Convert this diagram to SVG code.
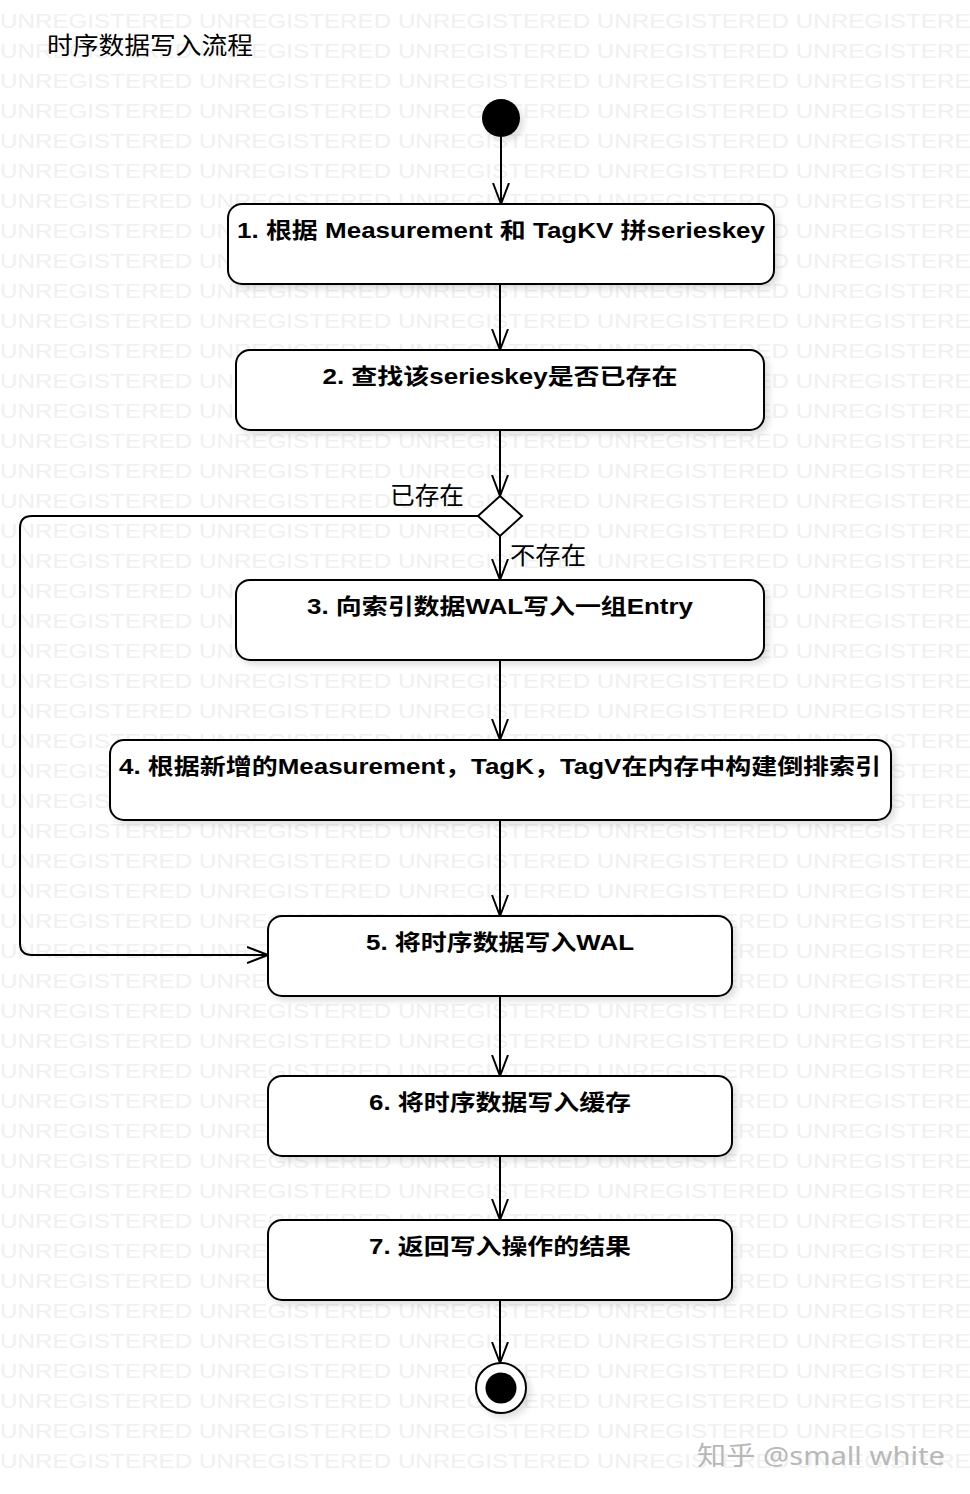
<svg xmlns="http://www.w3.org/2000/svg" width="970" height="1494" viewBox="0 0 970 1494">
<style>
.wm{font-family:"Liberation Sans",Arial,sans-serif;font-size:21px;fill:#f0f0f0;}
.box{fill:#ffffff;stroke:#000000;stroke-width:2;}
.lbl{font-family:"Liberation Sans","Noto Sans CJK SC",sans-serif;font-size:22px;font-weight:bold;fill:#000000;text-anchor:middle;}
.txt{font-family:"Liberation Sans","Noto Sans CJK SC",sans-serif;font-size:24px;fill:#000000;}
.conn{fill:none;stroke:#000000;stroke-width:2;}
</style>
<defs>
<marker id="arr" markerWidth="24" markerHeight="20" refX="21" refY="9" orient="auto" markerUnits="userSpaceOnUse">
<path d="M0,1 L21,9 L0,17" fill="none" stroke="#000" stroke-width="2"/>
</marker>
<filter id="sh" x="-10%" y="-10%" width="130%" height="140%">
<feDropShadow dx="4" dy="4" stdDeviation="3" flood-color="#000" flood-opacity="0.12"/>
</filter>
</defs>
<rect width="970" height="1494" fill="#ffffff"/>
<g id="watermark">
<text class="wm" x="0" y="28" textLength="988" lengthAdjust="spacingAndGlyphs">UNREGISTERED UNREGISTERED UNREGISTERED UNREGISTERED UNREGISTERED</text>
<text class="wm" x="0" y="58" textLength="988" lengthAdjust="spacingAndGlyphs">UNREGISTERED UNREGISTERED UNREGISTERED UNREGISTERED UNREGISTERED</text>
<text class="wm" x="0" y="88" textLength="988" lengthAdjust="spacingAndGlyphs">UNREGISTERED UNREGISTERED UNREGISTERED UNREGISTERED UNREGISTERED</text>
<text class="wm" x="0" y="118" textLength="988" lengthAdjust="spacingAndGlyphs">UNREGISTERED UNREGISTERED UNREGISTERED UNREGISTERED UNREGISTERED</text>
<text class="wm" x="0" y="148" textLength="988" lengthAdjust="spacingAndGlyphs">UNREGISTERED UNREGISTERED UNREGISTERED UNREGISTERED UNREGISTERED</text>
<text class="wm" x="0" y="178" textLength="988" lengthAdjust="spacingAndGlyphs">UNREGISTERED UNREGISTERED UNREGISTERED UNREGISTERED UNREGISTERED</text>
<text class="wm" x="0" y="208" textLength="988" lengthAdjust="spacingAndGlyphs">UNREGISTERED UNREGISTERED UNREGISTERED UNREGISTERED UNREGISTERED</text>
<text class="wm" x="0" y="238" textLength="988" lengthAdjust="spacingAndGlyphs">UNREGISTERED UNREGISTERED UNREGISTERED UNREGISTERED UNREGISTERED</text>
<text class="wm" x="0" y="268" textLength="988" lengthAdjust="spacingAndGlyphs">UNREGISTERED UNREGISTERED UNREGISTERED UNREGISTERED UNREGISTERED</text>
<text class="wm" x="0" y="298" textLength="988" lengthAdjust="spacingAndGlyphs">UNREGISTERED UNREGISTERED UNREGISTERED UNREGISTERED UNREGISTERED</text>
<text class="wm" x="0" y="328" textLength="988" lengthAdjust="spacingAndGlyphs">UNREGISTERED UNREGISTERED UNREGISTERED UNREGISTERED UNREGISTERED</text>
<text class="wm" x="0" y="358" textLength="988" lengthAdjust="spacingAndGlyphs">UNREGISTERED UNREGISTERED UNREGISTERED UNREGISTERED UNREGISTERED</text>
<text class="wm" x="0" y="388" textLength="988" lengthAdjust="spacingAndGlyphs">UNREGISTERED UNREGISTERED UNREGISTERED UNREGISTERED UNREGISTERED</text>
<text class="wm" x="0" y="418" textLength="988" lengthAdjust="spacingAndGlyphs">UNREGISTERED UNREGISTERED UNREGISTERED UNREGISTERED UNREGISTERED</text>
<text class="wm" x="0" y="448" textLength="988" lengthAdjust="spacingAndGlyphs">UNREGISTERED UNREGISTERED UNREGISTERED UNREGISTERED UNREGISTERED</text>
<text class="wm" x="0" y="478" textLength="988" lengthAdjust="spacingAndGlyphs">UNREGISTERED UNREGISTERED UNREGISTERED UNREGISTERED UNREGISTERED</text>
<text class="wm" x="0" y="508" textLength="988" lengthAdjust="spacingAndGlyphs">UNREGISTERED UNREGISTERED UNREGISTERED UNREGISTERED UNREGISTERED</text>
<text class="wm" x="0" y="538" textLength="988" lengthAdjust="spacingAndGlyphs">UNREGISTERED UNREGISTERED UNREGISTERED UNREGISTERED UNREGISTERED</text>
<text class="wm" x="0" y="568" textLength="988" lengthAdjust="spacingAndGlyphs">UNREGISTERED UNREGISTERED UNREGISTERED UNREGISTERED UNREGISTERED</text>
<text class="wm" x="0" y="598" textLength="988" lengthAdjust="spacingAndGlyphs">UNREGISTERED UNREGISTERED UNREGISTERED UNREGISTERED UNREGISTERED</text>
<text class="wm" x="0" y="628" textLength="988" lengthAdjust="spacingAndGlyphs">UNREGISTERED UNREGISTERED UNREGISTERED UNREGISTERED UNREGISTERED</text>
<text class="wm" x="0" y="658" textLength="988" lengthAdjust="spacingAndGlyphs">UNREGISTERED UNREGISTERED UNREGISTERED UNREGISTERED UNREGISTERED</text>
<text class="wm" x="0" y="688" textLength="988" lengthAdjust="spacingAndGlyphs">UNREGISTERED UNREGISTERED UNREGISTERED UNREGISTERED UNREGISTERED</text>
<text class="wm" x="0" y="718" textLength="988" lengthAdjust="spacingAndGlyphs">UNREGISTERED UNREGISTERED UNREGISTERED UNREGISTERED UNREGISTERED</text>
<text class="wm" x="0" y="748" textLength="988" lengthAdjust="spacingAndGlyphs">UNREGISTERED UNREGISTERED UNREGISTERED UNREGISTERED UNREGISTERED</text>
<text class="wm" x="0" y="778" textLength="988" lengthAdjust="spacingAndGlyphs">UNREGISTERED UNREGISTERED UNREGISTERED UNREGISTERED UNREGISTERED</text>
<text class="wm" x="0" y="808" textLength="988" lengthAdjust="spacingAndGlyphs">UNREGISTERED UNREGISTERED UNREGISTERED UNREGISTERED UNREGISTERED</text>
<text class="wm" x="0" y="838" textLength="988" lengthAdjust="spacingAndGlyphs">UNREGISTERED UNREGISTERED UNREGISTERED UNREGISTERED UNREGISTERED</text>
<text class="wm" x="0" y="868" textLength="988" lengthAdjust="spacingAndGlyphs">UNREGISTERED UNREGISTERED UNREGISTERED UNREGISTERED UNREGISTERED</text>
<text class="wm" x="0" y="898" textLength="988" lengthAdjust="spacingAndGlyphs">UNREGISTERED UNREGISTERED UNREGISTERED UNREGISTERED UNREGISTERED</text>
<text class="wm" x="0" y="928" textLength="988" lengthAdjust="spacingAndGlyphs">UNREGISTERED UNREGISTERED UNREGISTERED UNREGISTERED UNREGISTERED</text>
<text class="wm" x="0" y="958" textLength="988" lengthAdjust="spacingAndGlyphs">UNREGISTERED UNREGISTERED UNREGISTERED UNREGISTERED UNREGISTERED</text>
<text class="wm" x="0" y="988" textLength="988" lengthAdjust="spacingAndGlyphs">UNREGISTERED UNREGISTERED UNREGISTERED UNREGISTERED UNREGISTERED</text>
<text class="wm" x="0" y="1018" textLength="988" lengthAdjust="spacingAndGlyphs">UNREGISTERED UNREGISTERED UNREGISTERED UNREGISTERED UNREGISTERED</text>
<text class="wm" x="0" y="1048" textLength="988" lengthAdjust="spacingAndGlyphs">UNREGISTERED UNREGISTERED UNREGISTERED UNREGISTERED UNREGISTERED</text>
<text class="wm" x="0" y="1078" textLength="988" lengthAdjust="spacingAndGlyphs">UNREGISTERED UNREGISTERED UNREGISTERED UNREGISTERED UNREGISTERED</text>
<text class="wm" x="0" y="1108" textLength="988" lengthAdjust="spacingAndGlyphs">UNREGISTERED UNREGISTERED UNREGISTERED UNREGISTERED UNREGISTERED</text>
<text class="wm" x="0" y="1138" textLength="988" lengthAdjust="spacingAndGlyphs">UNREGISTERED UNREGISTERED UNREGISTERED UNREGISTERED UNREGISTERED</text>
<text class="wm" x="0" y="1168" textLength="988" lengthAdjust="spacingAndGlyphs">UNREGISTERED UNREGISTERED UNREGISTERED UNREGISTERED UNREGISTERED</text>
<text class="wm" x="0" y="1198" textLength="988" lengthAdjust="spacingAndGlyphs">UNREGISTERED UNREGISTERED UNREGISTERED UNREGISTERED UNREGISTERED</text>
<text class="wm" x="0" y="1228" textLength="988" lengthAdjust="spacingAndGlyphs">UNREGISTERED UNREGISTERED UNREGISTERED UNREGISTERED UNREGISTERED</text>
<text class="wm" x="0" y="1258" textLength="988" lengthAdjust="spacingAndGlyphs">UNREGISTERED UNREGISTERED UNREGISTERED UNREGISTERED UNREGISTERED</text>
<text class="wm" x="0" y="1288" textLength="988" lengthAdjust="spacingAndGlyphs">UNREGISTERED UNREGISTERED UNREGISTERED UNREGISTERED UNREGISTERED</text>
<text class="wm" x="0" y="1318" textLength="988" lengthAdjust="spacingAndGlyphs">UNREGISTERED UNREGISTERED UNREGISTERED UNREGISTERED UNREGISTERED</text>
<text class="wm" x="0" y="1348" textLength="988" lengthAdjust="spacingAndGlyphs">UNREGISTERED UNREGISTERED UNREGISTERED UNREGISTERED UNREGISTERED</text>
<text class="wm" x="0" y="1378" textLength="988" lengthAdjust="spacingAndGlyphs">UNREGISTERED UNREGISTERED UNREGISTERED UNREGISTERED UNREGISTERED</text>
<text class="wm" x="0" y="1408" textLength="988" lengthAdjust="spacingAndGlyphs">UNREGISTERED UNREGISTERED UNREGISTERED UNREGISTERED UNREGISTERED</text>
<text class="wm" x="0" y="1438" textLength="988" lengthAdjust="spacingAndGlyphs">UNREGISTERED UNREGISTERED UNREGISTERED UNREGISTERED UNREGISTERED</text>
<text class="wm" x="0" y="1468" textLength="988" lengthAdjust="spacingAndGlyphs">UNREGISTERED UNREGISTERED UNREGISTERED UNREGISTERED UNREGISTERED</text>
</g>
<g id="title">
<text class="txt" x="47" y="54" font-size="25" textLength="206" lengthAdjust="spacingAndGlyphs">时序数据写入流程</text>
</g>
<g id="connectors">
<line class="conn" x1="501" y1="137" x2="501" y2="204" marker-end="url(#arr)"/>
<line class="conn" x1="500" y1="284" x2="500" y2="350" marker-end="url(#arr)"/>
<line class="conn" x1="500" y1="430" x2="500" y2="496" marker-end="url(#arr)"/>
<line class="conn" x1="500" y1="536" x2="500" y2="580" marker-end="url(#arr)"/>
<path class="conn" d="M478,516 L32,516 Q20,516 20,528 L20,943 Q20,955 32,955 L268,955" marker-end="url(#arr)"/>
<line class="conn" x1="500" y1="660" x2="500" y2="740" marker-end="url(#arr)"/>
<line class="conn" x1="500" y1="820" x2="500" y2="916" marker-end="url(#arr)"/>
<line class="conn" x1="500" y1="996" x2="500" y2="1076" marker-end="url(#arr)"/>
<line class="conn" x1="500" y1="1156" x2="500" y2="1220" marker-end="url(#arr)"/>
<line class="conn" x1="500" y1="1300" x2="500" y2="1363" marker-end="url(#arr)"/>
<text class="txt" x="390" y="504" textLength="74" lengthAdjust="spacingAndGlyphs">已存在</text>
<text class="txt" x="510" y="564" textLength="76" lengthAdjust="spacingAndGlyphs">不存在</text>
</g>
<g id="start">
<circle cx="501" cy="118" r="19" fill="#000" filter="url(#sh)"/>
</g>
<g id="step1">
<rect class="box" x="228" y="204" width="546" height="80" rx="14" filter="url(#sh)"/>
<text class="lbl" x="501" y="238" textLength="528" lengthAdjust="spacingAndGlyphs">1. 根据 Measurement 和 TagKV 拼serieskey</text>
</g>
<g id="step2">
<rect class="box" x="236" y="350" width="528" height="80" rx="14" filter="url(#sh)"/>
<text class="lbl" x="500" y="384" textLength="355" lengthAdjust="spacingAndGlyphs">2. 查找该serieskey是否已存在</text>
</g>
<g id="decision">
<path d="M500,496 L522,516 L500,536 L478,516 Z" fill="#fff" stroke="#000" stroke-width="2"/>
</g>
<g id="step3">
<rect class="box" x="236" y="580" width="528" height="80" rx="14" filter="url(#sh)"/>
<text class="lbl" x="500" y="614" textLength="386" lengthAdjust="spacingAndGlyphs">3. 向索引数据WAL写入一组Entry</text>
</g>
<g id="step4">
<rect class="box" x="110" y="740" width="781" height="80" rx="14" filter="url(#sh)"/>
<text class="lbl" x="500" y="774" textLength="762" lengthAdjust="spacingAndGlyphs">4. 根据新增的Measurement，TagK，TagV在内存中构建倒排索引</text>
</g>
<g id="step5">
<rect class="box" x="268" y="916" width="464" height="80" rx="14" filter="url(#sh)"/>
<text class="lbl" x="500" y="950" textLength="268" lengthAdjust="spacingAndGlyphs">5. 将时序数据写入WAL</text>
</g>
<g id="step6">
<rect class="box" x="268" y="1076" width="464" height="80" rx="14" filter="url(#sh)"/>
<text class="lbl" x="500" y="1110" textLength="262" lengthAdjust="spacingAndGlyphs">6. 将时序数据写入缓存</text>
</g>
<g id="step7">
<rect class="box" x="268" y="1220" width="464" height="80" rx="14" filter="url(#sh)"/>
<text class="lbl" x="500" y="1254" textLength="262" lengthAdjust="spacingAndGlyphs">7. 返回写入操作的结果</text>
</g>
<g id="end">
<circle cx="501" cy="1388" r="25" fill="#fff" stroke="#000" stroke-width="2" filter="url(#sh)"/>
<circle cx="501" cy="1388" r="15.5" fill="#000"/>
</g>
<g id="credit">
<text x="697" y="1465" font-family="'Noto Sans','Noto Sans CJK SC',sans-serif" font-size="26" fill="#b8b8b8" textLength="248" lengthAdjust="spacingAndGlyphs">知乎 @small white</text>
</g>
</svg>
